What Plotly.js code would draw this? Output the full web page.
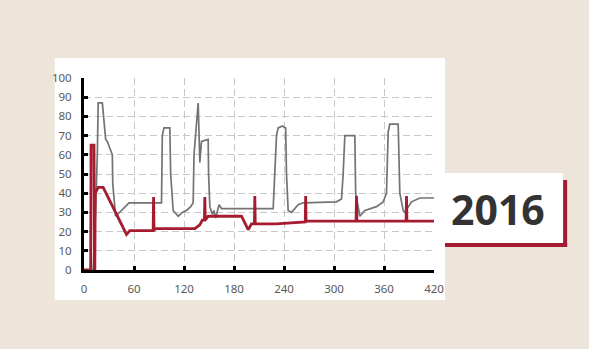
<!DOCTYPE html>
<html>
<head>
<meta charset="utf-8">
<script src="https://cdn.plot.ly/plotly-3.0.1.min.js"></script>
<style>
html,body{margin:0;padding:0;background:#EDE5DA;}
#chart{width:589px;height:349px;}
</style>
</head>
<body>
<div id="chart"></div>
<script>
// Gray series (time, value)
const grayX = [0, 11, 13, 16, 17, 22, 26, 28, 34, 34.5, 38, 54, 93, 94, 96, 103, 104, 107, 113, 118, 123, 128, 131, 132, 137, 139, 141, 149, 149.5, 151, 154, 156, 158, 160, 162, 165, 227, 231, 233, 238, 242, 243, 245, 249, 257, 263, 303, 309, 311, 313, 325, 326, 331, 337, 351, 359, 363, 365, 367, 377, 379, 383, 385, 393, 403, 420];
const grayY = [0, 0, 20, 60, 87, 87, 68, 67, 60, 45, 28, 35, 35, 70, 74, 74, 50, 31, 28, 30, 31, 33, 35, 60, 87, 56, 67, 68, 50, 33, 29, 31, 27, 31, 34, 32, 32, 70, 74, 75, 74, 50, 31, 30, 34, 35, 35.5, 37, 50, 70, 70, 40, 28, 31, 33, 35.5, 40, 72, 76, 76, 40, 31, 30, 35.5, 37.5, 37.5];

// Red series (time, value)
const redX = [0, 8, 8.5, 12, 12.5, 13, 13.5, 15, 17, 23, 51, 55, 83, 83.5, 84, 85, 133, 139, 142, 144.5, 145, 145.5, 149, 189, 197, 201, 204.5, 205, 205.5, 231, 263, 265.5, 266, 266.5, 326.5, 327, 327.5, 386.5, 387, 387.5, 420];
const redY = [0, 0, 65, 65, 0, 0, 40, 41, 43, 43, 18.5, 20.5, 20.5, 38, 20.5, 21.5, 21.5, 23.5, 26, 26, 38, 26, 28, 28, 21, 24, 24, 38.5, 24, 24, 25, 25, 38.5, 25.5, 25.5, 38.5, 25.5, 25.5, 38.5, 25.5, 25.5];

const xTicks = [0, 60, 120, 180, 240, 300, 360, 420];
const yTicks = [0, 10, 20, 30, 40, 50, 60, 70, 80, 90, 100];
const label = "2016";

// pixel -> paper helpers for decoration
const L = 84.3, R = 434, B = 270, T = 78;
const px = p => (p - L) / (R - L);
const py = p => (B - p) / (B - T);

const traces = [
  {x: grayX, y: grayY, type: 'scatter', mode: 'lines',
   line: {color: '#737373', width: 1.7}, hoverinfo: 'skip'},
  {x: redX, y: redY, type: 'scatter', mode: 'lines',
   line: {color: '#A51C30', width: 2.8}, hoverinfo: 'skip'}
];

const layout = {
  width: 589, height: 349,
  margin: {l: L, r: 589 - R, t: T, b: 349 - B, pad: 0},
  paper_bgcolor: '#EDE5DA',
  plot_bgcolor: '#ffffff',
  showlegend: false,
  font: {family: 'Noto Sans, sans-serif', size: 11.5, color: '#595959'},
  xaxis: {
    range: [0, 420], tickvals: xTicks, ticktext: xTicks.map(String),
    showgrid: true, gridcolor: '#c8c8c8', griddash: '7px,4px', gridwidth: 1,
    zeroline: false, showline: true, linecolor: '#000', linewidth: 3,
    ticks: 'inside', ticklen: 4, tickwidth: 3, tickcolor: '#000',
    ticklabelstandoff: 6, fixedrange: true
  },
  yaxis: {
    range: [0, 100], tickvals: yTicks, ticktext: yTicks.map(String),
    showgrid: true, gridcolor: '#c8c8c8', griddash: '7px,4px', gridwidth: 1,
    zeroline: false, showline: true, linecolor: '#000', linewidth: 3,
    ticks: 'inside', ticklen: 4, tickwidth: 3, tickcolor: '#000',
    ticklabelstandoff: 7, fixedrange: true
  },
  shapes: [
    {type: 'rect', xref: 'paper', yref: 'paper', layer: 'below',
     x0: px(55), x1: px(445), y0: py(300), y1: py(58),
     fillcolor: '#ffffff', line: {width: 0}},
    {type: 'rect', xref: 'paper', yref: 'paper', layer: 'above',
     x0: px(441), x1: px(563), y0: py(243), y1: py(173),
     fillcolor: '#ffffff', line: {width: 0}},
    {type: 'rect', xref: 'paper', yref: 'paper', layer: 'above',
     x0: px(563), x1: px(567), y0: py(247), y1: py(180),
     fillcolor: '#A51C30', line: {width: 0}},
    {type: 'rect', xref: 'paper', yref: 'paper', layer: 'above',
     x0: px(445), x1: px(567), y0: py(247), y1: py(243),
     fillcolor: '#A51C30', line: {width: 0}}
  ],
  annotations: [
    {text: '<b>' + label + '</b>', xref: 'paper', yref: 'paper',
     x: px(498), y: py(209), xanchor: 'center', yanchor: 'middle',
     showarrow: false, font: {family: 'Noto Sans, sans-serif', size: 41, color: '#333333'}}
  ]
};

Plotly.newPlot('chart', traces, layout, {displayModeBar: false, staticPlot: true});
</script>
</body>
</html>
